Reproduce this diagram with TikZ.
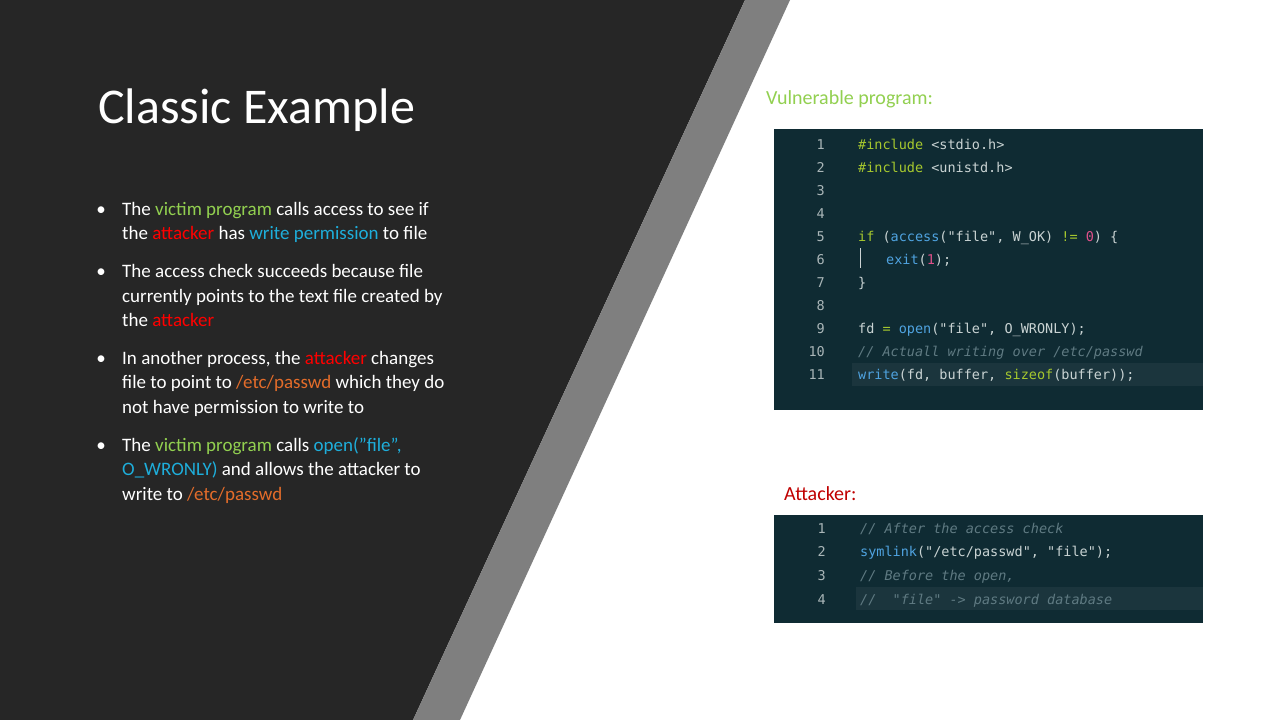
\documentclass[tikz,border=0pt]{standalone}
\usepackage{fontspec}
\setmainfont{Carlito}
\newfontfamily\codef{DejaVu Sans Mono}
\definecolor{darkbg}{HTML}{262626}
\definecolor{stripe}{HTML}{7F7F7F}
\definecolor{codebg}{HTML}{0F2B33}
\definecolor{vgreen}{HTML}{92D050}
\definecolor{vred}{HTML}{FF0000}
\definecolor{vblue}{HTML}{1EAEDB}
\definecolor{vorange}{HTML}{E36C2A}
\definecolor{dred}{HTML}{C00000}
\definecolor{kw}{HTML}{A6C82E}
\definecolor{fn}{HTML}{4FA3E0}
\definecolor{txt}{HTML}{C9D3D3}
\definecolor{cmt}{HTML}{5F7A82}
\definecolor{num}{HTML}{E0508A}
\definecolor{lnum}{HTML}{AAB6B8}
\newcommand{\K}[1]{\textcolor{kw}{#1}}
\newcommand{\F}[1]{\textcolor{fn}{#1}}
\newcommand{\N}[1]{\textcolor{num}{#1}}
\newcommand{\C}[1]{\textcolor{cmt}{\itshape #1}}
\begin{document}
\begin{tikzpicture}[x=1pt,y=-1pt,
  body/.style={anchor=base west,inner sep=0,font=\fontsize{19}{19}\selectfont,text=white},
  code/.style={anchor=base west,inner sep=0,font=\codef\fontsize{13.5}{13.5}\selectfont,text=txt},
  lno/.style={anchor=base east,inner sep=0,font=\codef\fontsize{13.5}{13.5}\selectfont,text=lnum},
  bul/.style={anchor=base,inner sep=0,font=\fontsize{19}{19}\selectfont,text=white}]
\useasboundingbox (0,0) rectangle (1280,720);
\fill[white] (0,0) rectangle (1280,720);
\fill[darkbg] (0,0) -- (745,0) -- (413,720) -- (0,720) -- cycle;
\fill[stripe] (745,0) -- (790,0) -- (460,720) -- (413,720) -- cycle;
\node[anchor=base west,inner sep=0,text=white,font=\fontsize{50}{50}\selectfont] (title) at (98,123) {Classic Example};
% bullets
\foreach \y/\n in {215/b1,277/b2,364/b3,451/b4} \node[bul] (\n) at (101,\y) {\textbullet};
\node[body] (l1) at (122,215) {The \textcolor{vgreen}{victim program} calls access to see if};
\node[body] (l2) at (122,239) {the \textcolor{vred}{attacker} has \textcolor{vblue}{write permission} to file};
\node[body] (l3) at (122,277) {The access check succeeds because file};
\node[body] (l4) at (122,302) {currently points to the text file created by};
\node[body] (l5) at (122,326) {the \textcolor{vred}{attacker}};
\node[body] (l6) at (122,364) {In another process, the \textcolor{vred}{attacker} changes};
\node[body] (l7) at (122,388) {file to point to \textcolor{vorange}{/etc/passwd} which they do};
\node[body] (l8) at (122,413) {not have permission to write to};
\node[body] (l9) at (122,451) {The \textcolor{vgreen}{victim program} calls \textcolor{vblue}{open("file",}};
\node[body] (l10) at (122,475) {\textcolor{vblue}{O\_WRONLY)} and allows the attacker to};
\node[body] (l11) at (122,500) {write to \textcolor{vorange}{/etc/passwd}};
% right side
\node[anchor=base west,inner sep=0,text=vgreen,font=\fontsize{20}{20}\selectfont] (vp) at (766,104) {Vulnerable program:};
\fill[codebg] (774,129) rectangle (1203,410);
\fill[white,opacity=0.05] (852,363) rectangle (1203,386);
\draw[lnum!60,line width=0.6] (860,248) -- (860,268);
\foreach \i/\y in {1/149,2/172,3/195,4/218,5/241,6/264,7/287,8/310,9/333,10/356,11/379}
  \node[lno] (n\i) at (825,\y) {\i};
\node[code] (c1) at (858,149) {\K{\#include} <stdio.h>};
\node[code] (c2) at (858,172) {\K{\#include} <unistd.h>};
\node[code] (c5) at (858,241) {\K{if} (\F{access}("file", W\_OK) \K{!=} \N{0}) \{};
\node[code] (c6) at (886,264) {\F{exit}(\N{1});};
\node[code] (c7) at (858,287) {\}};
\node[code] (c9) at (858,333) {fd \K{=} \F{open}("file", O\_WRONLY);};
\node[code] (c10) at (858,356) {\C{// Actuall writing over /etc/passwd}};
\node[code] (c11) at (858,379) {\F{write}(fd, buffer, \K{sizeof}(buffer));};
\node[anchor=base west,inner sep=0,text=dred,font=\fontsize{20}{20}\selectfont] (at) at (784,500) {Attacker:};
\fill[codebg] (774,515) rectangle (1203,623);
\fill[white,opacity=0.05] (856,587) rectangle (1203,610);
\foreach \i/\y in {1/533,2/556,3/580,4/604}
  \node[lno] (m\i) at (826,\y) {\i};
\node[code] (d1) at (860,533) {\C{// After the access check}};
\node[code] (d2) at (860,556) {\F{symlink}("/etc/passwd", "file");};
\node[code] (d3) at (860,580) {\C{// Before the open,}};
\node[code] (d4) at (860,604) {\C{//\ \ "file" -> password database}};
\end{tikzpicture}
\end{document}
